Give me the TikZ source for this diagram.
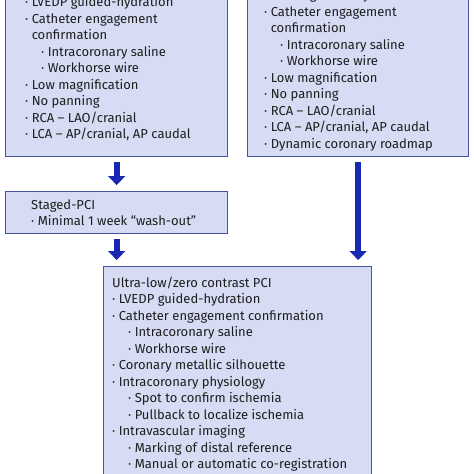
\documentclass[tikz,border=0pt]{standalone}
\usepackage{fontspec}
\setmainfont{Fira Sans}
\usepackage{tikz}
\usetikzlibrary{arrows.meta}
\definecolor{boxfill}{RGB}{214,220,243}
\definecolor{boxline}{RGB}{72,82,160}
\definecolor{arrowblue}{RGB}{24,40,176}
\definecolor{txtgray}{RGB}{30,30,30}
\newcommand{\hang}{\phantom{·\ }}
\newcommand{\sub}{\hspace*{16pt}}

\begin{document}
\begin{tikzpicture}[x=1pt,y=-1pt,
    box/.style={draw=boxline, fill=boxfill, line width=1.3pt, inner sep=0pt},
    txt/.style={anchor=north west, inner sep=0pt, align=left, text=txtgray,
                font=\fontsize{13}{16.5}\selectfont},
    flow/.style={draw=arrowblue, line width=6pt,
                 -{Triangle[length=9pt,width=17pt]},
                 shorten <=5pt, shorten >=6pt}]
  \useasboundingbox (0,0) rectangle (474,474);
  \clip (0,0) rectangle (474,474);

  % ================= top row: the two cut-off boxes =================

  % ---- left box ----
  \node[box, minimum width=222pt, minimum height=257pt, anchor=south west]
    (lbox) at (5,157) {};
  \node[txt] (ltext) at (25,-5.1) {\strut· LVEDP guided-hydration\\
    · Catheter engagement\\
    \hang confirmation\\
    \sub· Intracoronary saline\\
    \sub· Workhorse wire\\
    · Low magnification\\
    · No panning\\
    · RCA – LAO/cranial\\
    · LCA – AP/cranial, AP caudal};

  % ---- right box ----
  \node[box, minimum width=221pt, minimum height=257pt, anchor=south west]
    (rbox) at (247,157) {};
  \node[txt] (rtext) at (264,-12.1) {\strut· LVEDP guided-hydration\\
    · Catheter engagement\\
    \hang confirmation\\
    \sub· Intracoronary saline\\
    \sub· Workhorse wire\\
    · Low magnification\\
    · No panning\\
    · RCA – LAO/cranial\\
    · LCA – AP/cranial, AP caudal\\
    · Dynamic coronary roadmap};

  % ================= middle: staged PCI =================
  \node[box, minimum width=222pt, minimum height=42pt, anchor=north west]
    (staged) at (5,191) {};
  \node[txt] (stext) at (31,197.4) {\strut Staged-PCI\\
    · Minimal 1 week “wash-out”};

  % ================= bottom: ultra-low/zero contrast PCI =================
  \node[box, minimum width=268pt, minimum height=240pt, anchor=north west]
    (ulow) at (103,266) {};
  \node[txt] (utext) at (112,275.4) {\strut Ultra-low/zero contrast PCI\\
    · LVEDP guided-hydration\\
    · Catheter engagement confirmation\\
    \sub· Intracoronary saline\\
    \sub· Workhorse wire\\
    · Coronary metallic silhouette\\
    · Intracoronary physiology\\
    \sub· Spot to confirm ischemia\\
    \sub· Pullback to localize ischemia\\
    · Intravascular imaging\\
    \sub· Marking of distal reference\\
    \sub· Manual or automatic co-registration};

  % ---- arrows ----
  \draw[flow] (lbox.south) -- (staged.north);
  \draw[flow] (staged.south) -- (staged.south |- ulow.north);
  \draw[flow] (rbox.south) -- (rbox.south |- ulow.north);
\end{tikzpicture}
\end{document}
